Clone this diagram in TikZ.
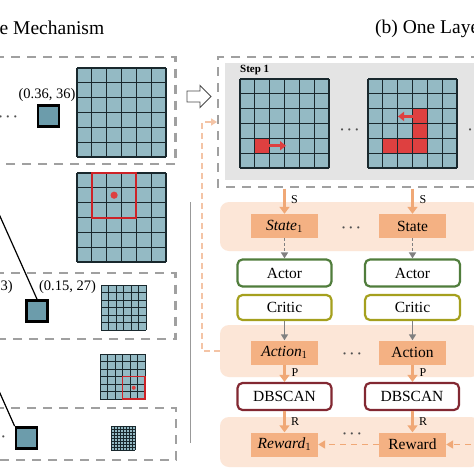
\documentclass[tikz,border=0pt]{standalone}
\usepackage{fontspec}
\setmainfont{Liberation Serif}
\usetikzlibrary{arrows.meta}

\definecolor{cellc}{RGB}{148,186,196}
\definecolor{sqc}{RGB}{108,156,171}
\definecolor{gridc}{RGB}{25,40,45}
\definecolor{redc}{RGB}{222,64,64}
\definecolor{redbox}{RGB}{205,35,40}
\definecolor{panelc}{RGB}{228,228,228}
\definecolor{dashc}{RGB}{160,160,160}
\definecolor{bandc}{RGB}{252,230,215}
\definecolor{orangec}{RGB}{244,177,131}
\definecolor{arrowc}{RGB}{240,168,118}
\definecolor{fbc}{RGB}{244,196,166}
\definecolor{actorc}{RGB}{80,125,60}
\definecolor{criticc}{RGB}{165,160,30}
\definecolor{dbc}{RGB}{130,40,50}
\definecolor{dotc}{RGB}{80,80,80}

\newcommand{\gridfill}[3]{\fill[cellc] (#1,#2) rectangle ++(#3,#3);}
\newcommand{\gridlines}[5]{%
  \pgfmathsetmacro{\mycell}{#3/#4}%
  \foreach \k in {0,...,#4}{%
    \draw[draw=gridc, line width=#5] (#1+\k*\mycell,#2) -- ++(0,#3);
    \draw[draw=gridc, line width=#5] (#1,#2+\k*\mycell) -- ++(#3,0);
  }}

\tikzset{
  dashline/.style={draw=dashc, line width=2.4pt, dash pattern=on 9pt off 7pt},
  bandbox/.style={fill=bandc, rounded corners=9pt, minimum width=260pt, inner sep=0pt},
  txt/.style={font=\fontsize{15.5}{18}\selectfont, inner sep=0pt},
  obox/.style={txt, fill=orangec, minimum width=67pt, minimum height=24pt},
  wbox/.style={txt, fill=white, rounded corners=5pt, line width=2.2pt, minimum height=27pt, minimum width=94pt},
  actorbox/.style={wbox, draw=actorc},
  criticbox/.style={wbox, draw=criticc, minimum height=25pt},
  dbbox/.style={wbox, draw=dbc},
  oarrow/.style={draw=arrowc, line width=3pt, -{Triangle[length=7pt,width=10pt]}},
  garrow/.style={draw=gray, line width=1.5pt, dash pattern=on 3pt off 2pt, -{Triangle[length=6pt,width=7pt]}},
  garrows/.style={draw=gray, line width=1.5pt, -{Triangle[length=6pt,width=7pt]}},
  odash/.style={draw=arrowc, line width=1.8pt, dash pattern=on 6pt off 5pt, -{Triangle[length=7pt,width=8pt]}},
  lbl/.style={font=\fontsize{12}{14}\selectfont, inner sep=0pt},
  coord/.style={font=\fontsize{14.5}{16}\selectfont, inner sep=0pt},
  dots/.style={text=dotc, font=\fontsize{15}{18}\selectfont\boldmath, inner sep=0pt},
  square/.style={draw=black, fill=sqc, line width=2.8pt, minimum size=21pt, inner sep=0pt},
  redarrow/.style={draw=redc, line width=3pt, -{Triangle[length=6pt,width=9pt]}},
}

\begin{document}
\begin{tikzpicture}[x=1pt,y=-1pt]
\useasboundingbox (0,0) rectangle (474,474);
\clip (0,0) rectangle (474,474);
\fill[white] (0,0) rectangle (474,474);

% ---------- titles ----------
\node[anchor=base west, font=\fontsize{19.5}{22}\selectfont, inner sep=0pt] (ta) at (-0.5,34) {e Mechanism};
\node[anchor=base west, font=\fontsize{19.5}{22}\selectfont, inner sep=0pt] (tb) at (375,33) {(b) One Layer};

% ---------- left panel ----------
% box 1
\draw[dashline] (-5,57) -- (175.5,57) -- (175.5,164) -- (-5,164);
\node[dots] (d1) at (8,117) {$\cdots$};
\node[square] (sq1) at (48.5,116) {};
\node[coord] (l1) at (47,95) {(0.36, 36)};
\gridfill{77}{68}{89}
\gridlines{77}{68}{89}{6}{1.1pt}

% grid with red window
\gridfill{77}{173}{89}
\gridlines{77}{173}{89}{6}{1.1pt}
\draw[redbox, line width=2pt] (91.83,173) rectangle (136.33,217.5);
\fill[redc] (114.1,195.2) circle (3.6);

% box 2
\draw[dashline] (-5,273) -- (175.5,273) -- (175.5,339) -- (-5,339);
\node[coord, anchor=east] (l2a) at (13,287) {3)};
\node[coord] (l2) at (67.5,287) {(0.15, 27)};
\node[square] (sq2) at (37,311) {};
\coordinate (c2) at (-1,214);
\draw[black, line width=1.2pt] (c2) -- (sq2.north);
\gridfill{101}{285}{45}
\gridlines{101}{285}{45}{6}{0.8pt}

% small grid with red window
\gridfill{100}{354}{45}
\gridlines{100}{354}{45}{6}{0.8pt}
\draw[redbox, line width=1.1pt] (122.5,376.5) rectangle (145,399);
\fill[redc] (133.75,387.75) circle (2);

% box 3
\draw[dashline] (-5,408) -- (176,408) -- (176,460) -- (-5,460);
\node[dots] (d3) at (-4,437) {$\cdots$};
\node[square] (sq3) at (26.5,438) {};
\coordinate (c3) at (-1,391);
\draw[black, line width=1.2pt] (c3) -- (sq3.north west);
\gridfill{111}{426}{24}
\gridlines{111}{426}{24}{8}{0.4pt}

% vertical separator
\draw[gray!80, line width=1pt] (190,202) -- (190,443);

% hollow arrow
\draw[fill=white, draw=gray!60!black, line width=0.9pt]
  (187,91) -- (200,91) -- (200,85.5) -- (211,96.5) -- (200,107.5) -- (200,102) -- (187,102) -- cycle;

% ---------- right panel ----------
\fill[panelc] (225,63) rectangle (480,180);
\draw[dashline] (480,57) -- (218,57) -- (218,187) -- (480,187);
\node[anchor=west, font=\fontsize{11}{13}\selectfont\bfseries, inner sep=0pt] (step) at (240,70) {Step 1};

% right grid 1
\gridfill{240}{79}{89}
\fill[redc] (254.83,138.33) rectangle ++(14.83,14.83);
\gridlines{240}{79}{89}{6}{1.1pt}
\draw[redarrow] (268,145.75) -- (286,145.75);

% right grid 2
\gridfill{368}{79}{89}
\foreach \cx/\cy in {1/4,2/4,3/4,3/3,3/2}{
  \fill[redc] (368+\cx*14.833,79+\cy*14.833) rectangle ++(14.83,14.83);
}
\gridlines{368}{79}{89}{6}{1.1pt}
\draw[redarrow] (415,116.4) -- (398,116.4);

\node[dots] (dg) at (349.5,130) {$\cdots$};
\node[dots] (dg2) at (477.5,130) {$\cdots$};

% bands
\node[bandbox, minimum height=49pt] (band1) at (350,226.5) {};
\node[bandbox, minimum height=52pt] (band2) at (350,351) {};
\node[bandbox, minimum height=50pt] (band3) at (350,442) {};

% feedback dashed arrow
\draw[draw=fbc, line width=1.8pt, dash pattern=on 6pt off 4pt, -{Triangle[length=6pt,width=7pt]}]
  (band2.west) -- (202,351) -- (202,122) -- (217,122);

% state row
\node[obox] (st1) at (284.5,226) {\textit{State}$_1$};
\node[obox] (st2) at (412.5,226) {State};
\node[dots] (dst) at (351,228) {$\cdots$};
\coordinate (s1) at (284.5,188.5);
\coordinate (s2) at (412.5,188.5);
\draw[oarrow] (s1) -- (st1.north);
\draw[oarrow] (s2) -- (st2.north);
\node[lbl] (ls1) at (294.5,200) {S};
\node[lbl] (ls2) at (423,200) {S};

% actor / critic
\node[actorbox] (ac1) at (284.5,273) {Actor};
\node[actorbox, minimum width=95pt] (ac2) at (412.5,273) {Actor};
\node[criticbox] (cr1) at (284.5,307.5) {Critic};
\node[criticbox, minimum width=95pt] (cr2) at (412.5,307.5) {Critic};
\draw[garrow] (st1.south) -- (ac1.north);
\draw[garrow] (st2.south) -- (ac2.north);

% action row
\node[obox] (an1) at (284.5,352.5) {\textit{Action}$_1$};
\node[obox] (an2) at (412.5,352.5) {Action};
\node[dots] (dan) at (352,354) {$\cdots$};
\draw[garrows] (cr1.south) -- (an1.north);
\draw[garrows] (cr2.south) -- (an2.north);

% DBSCAN
\node[dbbox] (db1) at (284.5,396.5) {DBSCAN};
\node[dbbox] (db2) at (412,396.5) {DBSCAN};
\draw[oarrow] (an1.south) -- (db1.north);
\draw[oarrow] (an2.south) -- (db2.north -| an2.south);
\node[lbl] (lp1) at (295,373) {P};
\node[lbl] (lp2) at (423,373) {P};

% reward row
\node[obox] (rw1) at (284.5,444.5) {\textit{Reward}$_1$};
\node[obox] (rw2) at (412.5,444.5) {Reward};
\draw[oarrow] (db1.south) -- (rw1.north);
\draw[oarrow] (db2.south -| rw2.north) -- (rw2.north);
\node[lbl] (lr1) at (295,422) {R};
\node[lbl] (lr2) at (423,422) {R};
\draw[odash] (rw2.west) -- (rw1.east);
\node[dots] (drw) at (352,434) {$\cdots$};
\coordinate (rin) at (482,444.5);
\draw[odash] (rin) -- (rw2.east);
\end{tikzpicture}
\end{document}
